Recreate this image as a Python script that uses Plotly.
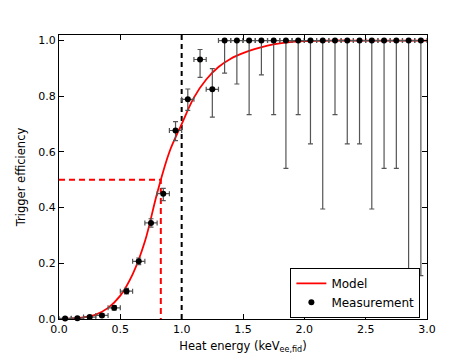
import plotly.graph_objects as go

# Measurement (bin centres, efficiency, asymmetric errors)
energy = [0.05, 0.15, 0.25, 0.35, 0.45, 0.55, 0.65, 0.75, 0.85, 0.95,
          1.05, 1.15, 1.25, 1.35, 1.45, 1.55, 1.65, 1.75, 1.85, 1.95,
          2.05, 2.15, 2.25, 2.35, 2.45, 2.55, 2.65, 2.75, 2.85, 2.95]
efficiency = [0.002, 0.003, 0.007, 0.013, 0.040, 0.100, 0.207, 0.345, 0.450, 0.677,
              0.789, 0.932, 0.825, 1.0, 1.0, 1.0, 1.0, 1.0, 1.0, 1.0,
              1.0, 1.0, 1.0, 1.0, 1.0, 1.0, 1.0, 1.0, 1.0, 1.0]
err_low = [0.002, 0.002, 0.003, 0.005, 0.008, 0.010, 0.012, 0.015, 0.025, 0.036,
           0.040, 0.064, 0.100, 0.117, 0.156, 0.266, 0.123, 0.266, 0.459, 0.266,
           0.371, 0.605, 0.266, 0.371, 0.371, 0.605, 0.459, 0.459, 0.844, 0.844]
err_high = [0.003, 0.003, 0.004, 0.006, 0.008, 0.010, 0.012, 0.015, 0.019, 0.032,
            0.037, 0.036, 0.074, 0.0, 0.0, 0.0, 0.0, 0.0, 0.0, 0.0,
            0.0, 0.0, 0.0, 0.0, 0.0, 0.0, 0.0, 0.0, 0.0, 0.0]
bin_half_width = [0.05] * 30

# Model curve
model_energy = [0.0, 0.1, 0.2, 0.3, 0.4, 0.5, 0.6, 0.7, 0.8, 0.9, 1.0, 1.1, 1.2,
                1.3, 1.4, 1.5, 1.6, 1.7, 1.8, 1.9, 2.0, 2.2, 2.5, 3.0]
model_eff = [0.0, 0.002, 0.006, 0.016, 0.040, 0.084, 0.160, 0.278, 0.452, 0.600,
             0.700, 0.795, 0.860, 0.905, 0.935, 0.955, 0.970, 0.982, 0.990, 0.995,
             0.998, 1.0, 1.0, 1.0]

threshold_50 = 0.83   # energy at 50 % efficiency
reference_energy = 1.0

x_ticks = [0.0, 0.5, 1.0, 1.5, 2.0, 2.5, 3.0]
y_ticks = [0.0, 0.2, 0.4, 0.6, 0.8, 1.0]

fig = go.Figure()

# Dashed guide lines
fig.add_trace(go.Scatter(x=[0.0, threshold_50, threshold_50], y=[0.5, 0.5, 0.0],
                         mode="lines", line=dict(color="red", width=2, dash="6px,4px"),
                         showlegend=False, hoverinfo="skip"))
fig.add_trace(go.Scatter(x=[reference_energy, reference_energy], y=[0.0, 1.02],
                         mode="lines", line=dict(color="black", width=2, dash="5px,4px"),
                         showlegend=False, hoverinfo="skip"))

fig.add_trace(go.Scatter(x=model_energy, y=model_eff, mode="lines", name="Model",
                         line=dict(color="red", width=1.8, shape="spline", smoothing=1.0)))

fig.add_trace(go.Scatter(
    x=energy, y=efficiency, mode="markers", name="Measurement",
    marker=dict(color="black", size=6),
    error_y=dict(type="data", symmetric=False, array=err_high, arrayminus=err_low,
                 color="#555555", thickness=1.2, width=2.5),
    error_x=dict(type="data", array=bin_half_width, color="#555555",
                 thickness=1.2, width=2.5),
    cliponaxis=False,
))

tick_font = dict(family="DejaVu Sans", size=11, color="black")
title_font = dict(family="DejaVu Sans", size=11.5, color="black")
legend_font = dict(family="DejaVu Sans", size=12, color="black")

fig.update_layout(
    width=466, height=347,
    margin=dict(l=51, r=47, t=27, b=36),
    paper_bgcolor="white", plot_bgcolor="white",
    font=tick_font,
    showlegend=True,
    legend=dict(x=0.982, y=0.004, xanchor="right", yanchor="bottom",
                bgcolor="white", bordercolor="black", borderwidth=1,
                font=legend_font, tracegroupgap=0),
    xaxis=dict(range=[0, 3], tickvals=x_ticks, ticktext=[f"{v:.1f}" for v in x_ticks],
               ticks="inside", ticklen=5, tickcolor="black", showline=True,
               linecolor="black", linewidth=1, mirror="ticks", showgrid=False,
               zeroline=False, tickfont=tick_font, automargin=False,
               title=dict(text="Heat energy (keV<sub>ee,fid</sub>)", font=title_font, standoff=6)),
    yaxis=dict(range=[0, 1.02], tickvals=y_ticks, ticktext=[f"{v:.1f}" for v in y_ticks],
               ticks="inside", ticklen=5, tickcolor="black", showline=True,
               linecolor="black", linewidth=1, mirror="ticks", showgrid=False,
               zeroline=False, tickfont=tick_font, automargin=False,
               title=dict(text="Trigger efficiency", font=title_font, standoff=10)),
)

fig.write_html("out.html")
